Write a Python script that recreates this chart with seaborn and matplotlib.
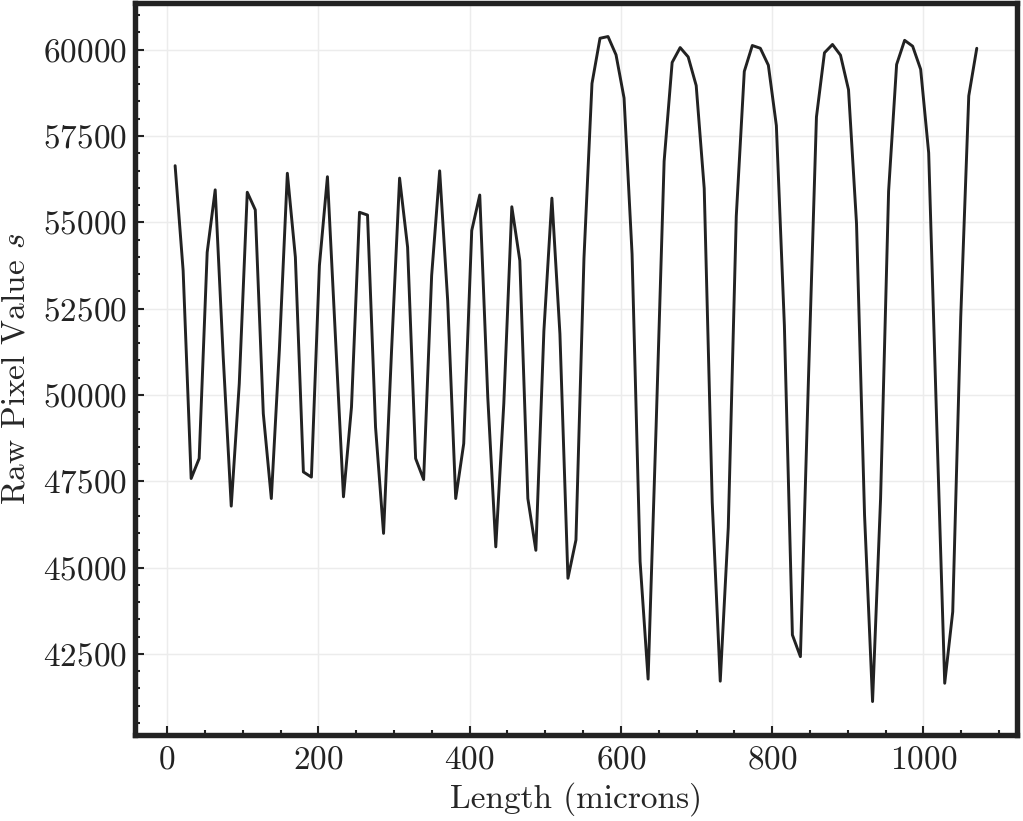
import numpy as np
import pandas as pd
import seaborn as sns
import matplotlib.pyplot as plt
from matplotlib.ticker import MultipleLocator, ScalarFormatter

# pixel pitch along the sensor (microns) and raw pixel readings
pixel_pitch = 10.6
raw_values = [
    56640, 53600, 47580, 48160, 54130, 55940, 51100, 46780, 50320, 55870,
    55360, 49460, 47000, 51290, 56420, 53990, 47770, 47620, 53750, 56320,
    51670, 47050, 49650, 55290, 55210, 49070, 45990, 51290, 56280, 54280,
    48160, 47550, 53460, 56490, 52730, 47000, 48590, 54760, 55790, 49940,
    45600, 49750, 55450, 53890, 47000, 45500, 51850, 55700, 51770, 44690,
    45800, 53960, 59020, 60330, 60380, 59850, 58600, 54080, 45180, 41770,
    49090, 56770, 59630, 60060, 59790, 58960, 55980, 46890, 41710, 46160,
    55180, 59370, 60120, 60040, 59550, 57800, 52010, 43050, 42420, 50430,
    58050, 59910, 60150, 59840, 58840, 54960, 46520, 41120, 47000, 55900,
    59570, 60270, 60100, 59430, 57010, 49200, 41650, 43720, 52260, 58660,
    60040,
]
pixel_index = np.arange(1, len(raw_values) + 1)
length_um = pixel_index * pixel_pitch

df = pd.DataFrame({"length": length_um, "value": raw_values})

sns.set_theme(style="ticks")
plt.rcParams.update({
    "font.family": "serif",
    "font.serif": ["cmr10"],
    "mathtext.fontset": "cm",
    "axes.formatter.use_mathtext": True,
    "font.size": 8,
    "axes.labelsize": 8,
    "xtick.labelsize": 8,
    "ytick.labelsize": 8,
    "axes.linewidth": 1.3,
    "axes.edgecolor": "#222222",
    "xtick.direction": "in",
    "ytick.direction": "in",
    "xtick.major.size": 2.2,
    "ytick.major.size": 2.2,
    "xtick.minor.size": 1.2,
    "ytick.minor.size": 1.2,
    "xtick.major.width": 0.5,
    "ytick.major.width": 0.5,
    "xtick.minor.width": 0.5,
    "ytick.minor.width": 0.5,
    "xtick.major.pad": 2.5,
    "ytick.major.pad": 2.0,
    "xtick.color": "#222222",
    "ytick.color": "#222222",
})

fig = plt.figure(figsize=(1023 / 300, 821 / 300), dpi=300)
ax = fig.add_axes([0.132, 0.105, 0.862, 0.891])

sns.lineplot(data=df, x="length", y="value", ax=ax, color="#222222", linewidth=0.7)

ax.grid(True, color="#ececec", linewidth=0.35)
ax.set_axisbelow(True)
ax.xaxis.set_major_locator(MultipleLocator(200))
ax.xaxis.set_minor_locator(MultipleLocator(50))
ax.yaxis.set_major_locator(MultipleLocator(2500))
ax.yaxis.set_minor_locator(MultipleLocator(500))
fmt = ScalarFormatter(useOffset=False)
ax.yaxis.set_major_formatter(fmt)
ax.tick_params(which="both", top=False, right=False)

ax.set_xlabel("Length (microns)", labelpad=2.0)
ax.set_ylabel("Raw Pixel Value $s$", labelpad=3.0)

fig.savefig("out.png", dpi=300)
